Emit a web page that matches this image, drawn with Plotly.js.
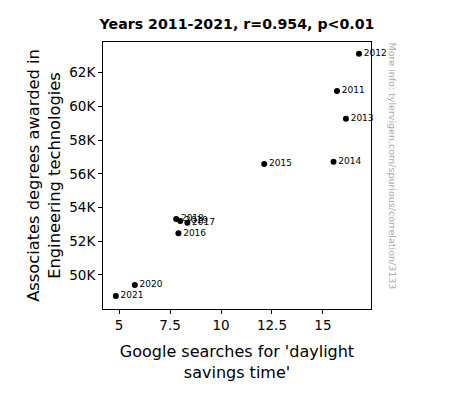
<!DOCTYPE html>
<html>
<head>
<meta charset="utf-8">
<script src="https://cdn.plot.ly/plotly-3.0.1.min.js"></script>
<style>
  html, body { margin: 0; padding: 0; background: #fff; }
  #chart { width: 474px; height: 412px; }
</style>
</head>
<body>
<div id="chart"></div>
<script>
// data
var years = ["2011", "2012", "2013", "2014", "2015", "2016", "2017", "2018", "2019", "2020", "2021"];
var searches = [15.69, 16.77, 16.13, 15.52, 12.12, 7.91, 8.35, 7.80, 8.00, 5.77, 4.84];
var degrees = [60910, 63130, 59270, 56720, 56580, 52470, 53100, 53320, 53200, 49410, 48750];

var xTicks = [5, 7.5, 10, 12.5, 15];
var yTicks = [50000, 52000, 54000, 56000, 58000, 60000, 62000];
var yTickText = ["50K", "52K", "54K", "56K", "58K", "60K", "62K"];

var font = "DejaVu Sans, sans-serif";

var trace = {
  x: searches,
  y: degrees,
  text: years,
  type: "scatter",
  mode: "markers+text",
  textposition: "middle right",
  textfont: { family: font, size: 9, color: "#000" },
  marker: { color: "#000", size: 6 },
  hoverinfo: "skip",
  cliponaxis: false
};

var axisBase = {
  showgrid: false,
  zeroline: false,
  showline: true,
  mirror: true,
  linecolor: "#000",
  linewidth: 1,
  ticks: "outside",
  ticklen: 4,
  tickcolor: "#000",
  tickfont: { family: font, size: 13.5, color: "#000" }
};

var layout = {
  width: 474,
  height: 412,
  margin: { l: 103, r: 103, t: 42, b: 103 },
  paper_bgcolor: "#fff",
  plot_bgcolor: "#fff",
  showlegend: false,
  title: {
    text: "<b>Years 2011-2021, r=0.954, p<0.01</b>",
    font: { family: font, size: 14.2, color: "#000" },
    x: 0.5,
    xanchor: "center",
    y: 1 - 24 / 412,
    yanchor: "middle"
  },
  xaxis: Object.assign({}, axisBase, {
    range: [4.21, 17.36],
    tickvals: xTicks,
    ticktext: xTicks.map(String),
    title: {
      text: "Google searches for 'daylight<br>savings time'",
      font: { family: font, size: 16, color: "#000" },
      standoff: 13
    }
  }),
  yaxis: Object.assign({}, axisBase, {
    range: [47980, 63820],
    tickvals: yTicks,
    ticktext: yTickText,
    title: {
      text: "Associates degrees awarded in<br>Engineering technologies",
      font: { family: font, size: 16.3, color: "#000" },
      standoff: 4
    }
  }),
  annotations: [{
    text: "More info: tylervigen.com/spurious/correlation/3133",
    xref: "paper",
    yref: "paper",
    x: 1.08,
    y: 0.536,
    xanchor: "center",
    yanchor: "middle",
    textangle: 90,
    showarrow: false,
    font: { family: font, size: 9.5, color: "#aaaaaa" }
  }]
};

Plotly.newPlot("chart", [trace], layout, { displayModeBar: false, staticPlot: true });
</script>
</body>
</html>
